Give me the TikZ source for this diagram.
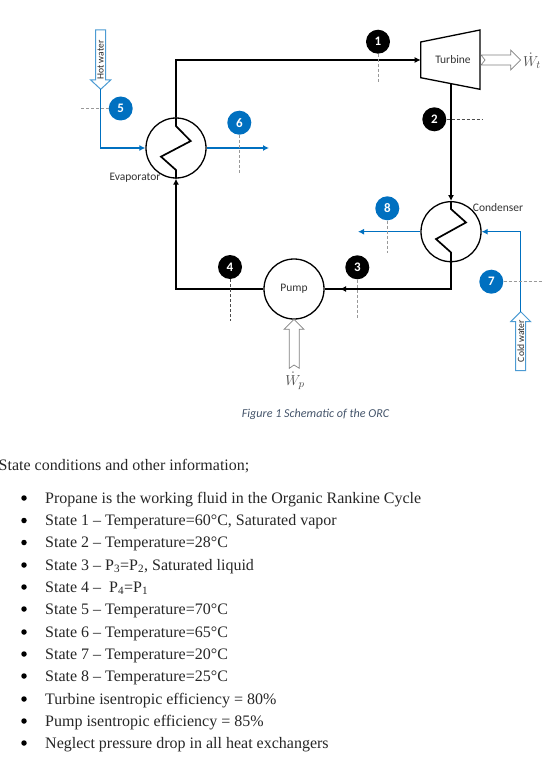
\documentclass[tikz,border=0pt]{standalone}
\usepackage{fontspec}
\setmainfont{Liberation Serif}
\newfontfamily\labelfont{Carlito}
\usetikzlibrary{arrows.meta}
\definecolor{capblue}{HTML}{44546A}
\definecolor{flowblue}{HTML}{0070C0}
\definecolor{inktext}{HTML}{262626}
\tikzset{
  unit/.style={circle,draw=black,line width=1.3pt,minimum size=60pt,inner sep=0pt,fill=white},
  pipe/.style={draw=black,line width=1.7pt},
  pipetip/.style={pipe,-{Latex[length=6pt,width=6pt]}},
  water/.style={draw=flowblue,line width=1.5pt},
  watertip/.style={water,-{Latex[length=6pt,width=6pt]}},
  blackdot/.style={circle,fill=black,text=white,minimum size=24pt,inner sep=0pt,font=\labelfont\bfseries\fontsize{13}{13}\selectfont},
  bluedot/.style={circle,fill=flowblue,text=white,minimum size=24pt,inner sep=0pt,font=\labelfont\bfseries\fontsize{13}{13}\selectfont},
  tag/.style={inner sep=0pt,text=black!80,font=\labelfont\fontsize{11.5}{11.5}\selectfont},
  lead/.style={draw=black!40,dashed,line width=0.7pt,dash pattern=on 3pt off 2pt},
  leaddark/.style={draw=black!70,dashed,line width=0.7pt,dash pattern=on 3pt off 2pt},
  workarrow/.style={draw=black!50,line width=0.7pt,fill=white},
  streamarrow/.style={draw=flowblue!70,line width=1pt,fill=white},
  streamtag/.style={inner sep=0pt,rotate=90,text=black!85,font=\labelfont\fontsize{9.6}{9.6}\selectfont},
  body/.style={anchor=base west,inner sep=0pt,text=inktext,font=\fontsize{16}{16}\selectfont},
  dotmark/.style={circle,fill=black,minimum size=5.5pt,inner sep=0pt}
}
\begin{document}
\begin{tikzpicture}[x=1pt,y=-1pt]
\useasboundingbox (0,0) rectangle (558,765);
% turbine
\coordinate (t1) at (420.7,42);
\coordinate (t2) at (480,30);
\coordinate (t3) at (480,89.3);
\coordinate (t4) at (420.7,77.7);
\coordinate (tin) at (420.7,60);
\coordinate (tout) at (451,83.7);
\coordinate (corner1) at (176,60);
\coordinate (corner3) at (451,289);
\coordinate (corner4) at (176,289);
\node[unit] (evap) at (176,148) {};
\node[unit] (cond) at (451,231.7) {};
\node[unit] (pump) at (294,289) {};
\node[tag] (pumplabel) at (294,289) {Pump};
\node[tag,anchor=center] (evaplabel) at (135,178) {Evaporator};
\node[tag,anchor=center] (condlabel) at (498,207.5) {Condenser};
\draw[line width=1.3pt,black] (t1) -- (t2) -- (t3) -- (t4) -- cycle;
\node[tag] (turbinelabel) at (453,60) {Turbine};
% zigzags
\draw[pipe,line join=miter] (evap.north) -- ++(0,8.7) -- ++(14.7,15) -- ++(-29.7,15.6) -- ++(15,13.4) -- (evap.south);
\draw[pipe,line join=miter] (cond.north) -- ++(0,8) -- ++(15,13.4) -- ++(-30,16.6) -- ++(15,13.4) -- (cond.south);
% working fluid
\draw[pipetip] (evap.north) -- (corner1) -- (tin);
\draw[pipetip] (tout) -- (cond.north);
\draw[pipe] (cond.south) -- (corner3) -- (pump.east);
\draw[pipe,-{Latex[length=6pt,width=6pt]}] (corner3) -- (340,289);
\draw[pipetip] (pump.west) -- (corner4) -- (evap.south);
% hot water
\coordinate (hottip) at (100.7,89.3);
\coordinate (hotturn) at (100.7,148);
\draw[streamarrow] (95.7,30) -- (105.7,30) -- (105.7,80) -- (110.7,80) -- (hottip) -- (90.7,80) -- (95.7,80) -- cycle;
\node[streamtag] (hotlabel) at (100.7,60) {Hot water};
\draw[watertip] (hottip) -- (hotturn) -- (evap.west);
\coordinate (sixend) at (269,148);
\draw[watertip] (evap.east) -- (sixend);
% cold water
\coordinate (coldtip) at (520.7,311.7);
\coordinate (coldturn) at (520.7,231.7);
\draw[streamarrow] (515.7,370.7) -- (525.7,370.7) -- (525.7,321.7) -- (530.7,321.7) -- (coldtip) -- (510.7,321.7) -- (515.7,321.7) -- cycle;
\node[streamtag] (coldlabel) at (520.7,341) {Cold water};
\draw[watertip] (coldtip) -- (coldturn) -- (cond.east);
\coordinate (eightend) at (358,231.7);
\draw[watertip] (cond.west) -- (eightend);
% state markers
\node[blackdot] (s1) at (378,41.7) {1};
\node[blackdot] (s2) at (434.3,119.3) {2};
\node[blackdot] (s3) at (357.3,267.3) {3};
\node[blackdot] (s4) at (230,267) {4};
\node[bluedot] (s5) at (120.7,108.5) {5};
\node[bluedot] (s6) at (239.3,122.7) {6};
\node[bluedot] (s7) at (491.3,281.7) {7};
\node[bluedot] (s8) at (387.3,208.3) {8};
\coordinate (l1) at (378,83);
\coordinate (l2) at (482.7,119.3);
\coordinate (l3) at (357.3,319);
\coordinate (l4) at (230,320.7);
\coordinate (l5) at (80,108.5);
\coordinate (l6) at (239.3,173);
\coordinate (l7) at (543,281.7);
\coordinate (l8) at (387.3,253);
\draw[lead] (s1.south) -- (l1);
\draw[leaddark] (s2.east) -- (l2);
\draw[lead] (s3.south) -- (l3);
\draw[leaddark] (s4.south) -- (l4);
\draw[lead] (s5.west) -- (l5);
\draw[lead] (s6.south) -- (l6);
\draw[lead] (s7.east) -- (l7);
\draw[lead] (s8.south) -- (l8);
% work arrows
\draw[workarrow] (481,55) -- (510.7,55) -- (510.7,50) -- (520.7,60) -- (510.7,70) -- (510.7,65) -- (481,65) -- (485,60) -- cycle;
\node[inner sep=0pt,text=black!70,font=\fontsize{15}{15}\selectfont] (wt) at (532,60.5) {$\dot{W}_t$};
\draw[workarrow] (294,319.3) -- (304,329.3) -- (299.3,329.3) -- (299.3,368.3) -- (294,365) -- (289.3,368.3) -- (289.3,329.3) -- (284,329.3) -- cycle;
\node[inner sep=0pt,text=black!70,font=\fontsize{15}{15}\selectfont] (wp) at (295,381) {$\dot{W}_p$};
% caption
\node[inner sep=0pt,text=capblue,font=\labelfont\itshape\fontsize{12.1}{12.1}\selectfont] (cap) at (315.5,414) {Figure 1 Schematic of the ORC};
% text
\node[body] (intro) at (-1.5,470) {State conditions and other information;};
\foreach \yy/\txt in {
 503/{Propane is the working fluid in the Organic Rankine Cycle},
 525.5/{State 1 -- Temperature=60°C, Saturated vapor},
 547.5/{State 2 -- Temperature=28°C},
 570/{State 3 -- P\textsubscript{3}=P\textsubscript{2}, Saturated liquid},
 592/{State 4 --\ \ P\textsubscript{4}=P\textsubscript{1}},
 614/{State 5 -- Temperature=70°C},
 637/{State 6 -- Temperature=65°C},
 659/{State 7 -- Temperature=20°C},
 681/{State 8 -- Temperature=25°C},
 704/{Turbine isentropic efficiency = 80\%},
 726/{Pump isentropic efficiency = 85\%},
 748/{Neglect pressure drop in all heat exchangers}}{
  \node[dotmark] at (24,\yy-5) {};
  \node[body] at (45,\yy) {\txt};
}
\end{tikzpicture}
\end{document}
